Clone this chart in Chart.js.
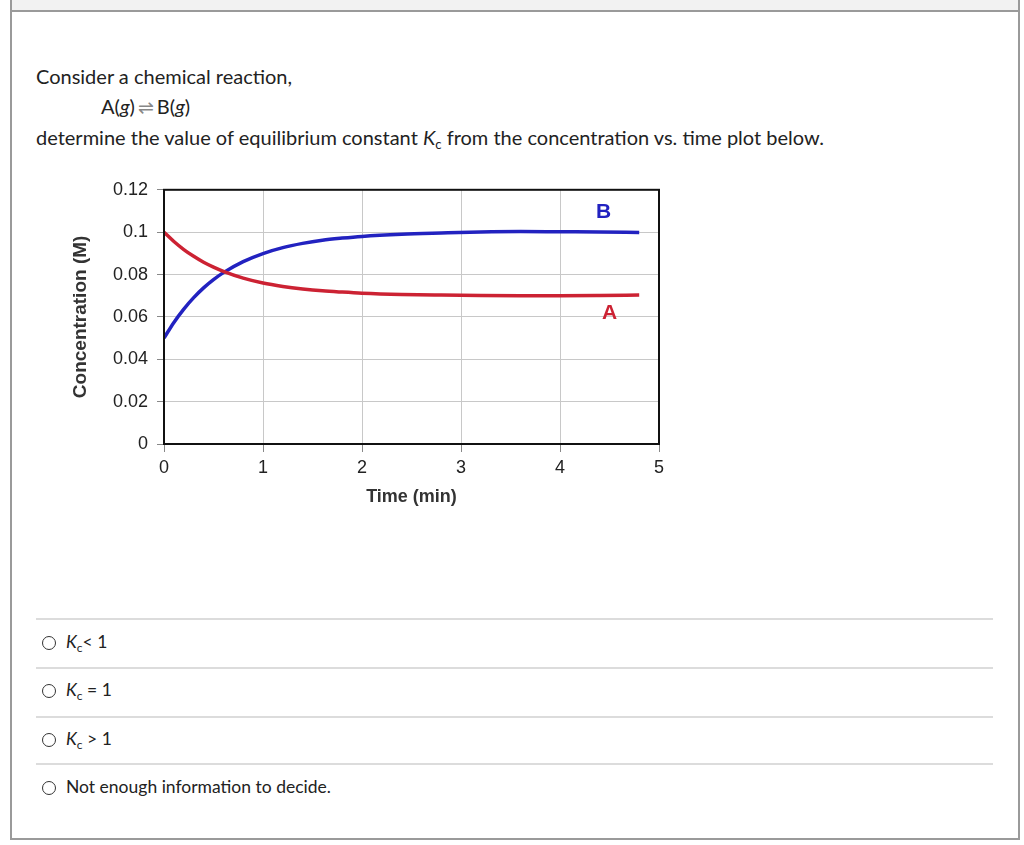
<!DOCTYPE html>
<html>
<head>
<meta charset="utf-8">
<script src="https://cdn.jsdelivr.net/npm/chart.js@4"></script>
<style>
body { margin: 0; background: #fff; font-family: Lato, "Noto Sans", sans-serif; color: #222; }
#frame { position: absolute; left: 10px; top: -2px; width: 1006px; height: 838px; border: 2px solid #9a9a9a; }
#band { position: absolute; left: 0; top: 0; width: 100%; height: 10px; background: #f2f2f2; border-bottom: 2px solid #9a9a9a; }
.q { position: absolute; font-size: 20px; line-height: 24px; white-space: nowrap; }
.arrow { color: #888; font-family: "DejaVu Sans"; font-size: 19px; padding: 0 3px; }
.sub { font-size: 13px; position: relative; top: 4px; }
.rule { position: absolute; left: 36px; width: 957px; height: 2px; background: #dcdcdc; }
.opt { position: absolute; left: 42px; font-size: 17.5px; line-height: 20px; white-space: nowrap; }
.opt .sub { font-size: 12px; }
.opt .dot { display: inline-block; width: 12px; height: 12px; border: 1.5px solid #333; border-radius: 50%; vertical-align: -2px; margin-right: 10px; }
#wrap { position: absolute; left: 60px; top: 170px; width: 620px; height: 340px; }
</style>
</head>
<body>
<div id="frame"><div id="band"></div></div>

<div class="q" style="left:36px; top:64px;">Consider a chemical reaction,</div>
<div class="q" style="left:101px; top:94px;">A(<i>g</i>)<span class="arrow">⇌</span>B(<i>g</i>)</div>
<div class="q" style="left:36px; top:125px;">determine the value of equilibrium constant <i>K</i><span class="sub">c</span> from the concentration vs. time plot below.</div>

<div id="wrap"><canvas id="myChart"></canvas></div>

<div class="rule" style="top:618px;"></div>
<div class="opt" style="top:632px;"><span class="dot"></span><i>K</i><span class="sub">c</span>&lt; 1</div>
<div class="rule" style="top:667px;"></div>
<div class="opt" style="top:680px;"><span class="dot"></span><i>K</i><span class="sub">c</span> = 1</div>
<div class="rule" style="top:716px;"></div>
<div class="opt" style="top:729px;"><span class="dot"></span><i>K</i><span class="sub">c</span> &gt; 1</div>
<div class="rule" style="top:763px;"></div>
<div class="opt" style="top:777px;"><span class="dot"></span>Not enough information to decide.</div>

<script>
// time in minutes
var times = [0, 0.1, 0.2, 0.3, 0.4, 0.5, 0.6, 0.8, 1.0, 1.2, 1.4, 1.6, 1.8, 2.0, 2.4, 2.8, 3.2, 3.6, 4.0, 4.4, 4.8];
// concentrations (M)
var concA = [0.100, 0.0956, 0.0918, 0.0886, 0.0858, 0.0835, 0.0815, 0.0783, 0.0760, 0.0744, 0.0732, 0.0723, 0.0717, 0.0712, 0.0706, 0.0703, 0.0701, 0.0700, 0.0700, 0.0701, 0.0703];
var concB = [0.050, 0.0574, 0.0637, 0.0691, 0.0737, 0.0776, 0.0809, 0.0861, 0.0899, 0.0927, 0.0947, 0.0962, 0.0972, 0.0980, 0.0990, 0.0996, 0.1001, 0.1003, 0.1002, 0.1001, 0.0999];
var yTicks = [0, 0.02, 0.04, 0.06, 0.08, 0.1, 0.12];
var yTickLabels = ['0', '0.02', '0.04', '0.06', '0.08', '0.1', '0.12'];
var xTicks = [0, 1, 2, 3, 4, 5];
var seriesNames = ['A', 'B'];

function toPoints(ys) {
    return times.map(function (t, i) { return {x: t, y: ys[i]}; });
}

// black frame round the plot + A / B labels
var framePlugin = {
    id: 'framePlugin',
    afterDatasetsDraw: function (chart) {
        var ctx = chart.ctx, a = chart.chartArea;
        var xs = chart.scales.x, ys = chart.scales.y;
        ctx.save();
        ctx.strokeStyle = '#111';
        ctx.lineWidth = 2;
        ctx.strokeRect(a.left, a.top, a.right - a.left, a.bottom - a.top);
        ctx.font = 'bold 21px "Liberation Sans", Arial, sans-serif';
        ctx.textAlign = 'center';
        ctx.textBaseline = 'middle';
        ctx.fillStyle = '#2222c0';
        ctx.fillText(seriesNames[1], xs.getPixelForValue(4.44), ys.getPixelForValue(0.1093));
        ctx.fillStyle = '#cc2233';
        ctx.fillText(seriesNames[0], xs.getPixelForValue(4.5), ys.getPixelForValue(0.0616));
        ctx.restore();
    }
};

new Chart(document.getElementById('myChart'), {
    type: 'line',
    data: {
        datasets: [{
            label: seriesNames[0],
            data: toPoints(concA),
            borderColor: '#cc2233',
            borderWidth: 3.5,
            pointRadius: 0,
            cubicInterpolationMode: 'monotone',
            fill: false
        }, {
            label: seriesNames[1],
            data: toPoints(concB),
            borderColor: '#2222c0',
            borderWidth: 3.5,
            pointRadius: 0,
            cubicInterpolationMode: 'monotone',
            fill: false
        }]
    },
    options: {
        responsive: true,
        maintainAspectRatio: false,
        animation: false,
        layout: { padding: { top: 17, right: 21, left: 0, bottom: 0 } },
        plugins: { legend: { display: false }, tooltip: { enabled: false } },
        scales: {
            x: {
                type: 'linear',
                min: 0, max: 5,
                afterBuildTicks: function (s) { s.ticks = xTicks.map(function (v) { return {value: v}; }); },
                afterFit: function (s) { s.height = 66; },
                grid: { color: '#c8c8c8', tickColor: '#888', tickLength: 8 },
                border: { color: '#111', width: 2 },
                ticks: { color: '#222', padding: 5, font: { family: '"Liberation Sans", Arial, sans-serif', size: 18 } },
                title: { display: true, text: 'Time (min)', color: '#333', padding: { top: 0, bottom: 2 },
                         font: { family: '"Liberation Sans", Arial, sans-serif', size: 18, weight: 'bold' } }
            },
            y: {
                min: 0, max: 0.12,
                afterBuildTicks: function (s) { s.ticks = yTicks.map(function (v) { return {value: v}; }); },
                afterFit: function (s) { s.width = 104; },
                grid: { color: '#c8c8c8', tickColor: '#888', tickLength: 7 },
                border: { color: '#111', width: 2 },
                ticks: {
                    color: '#222', padding: 9,
                    font: { family: '"Liberation Sans", Arial, sans-serif', size: 18 },
                    callback: function (v, i) { return yTickLabels[i]; }
                },
                title: { display: true, text: 'Concentration (M)', color: '#333', padding: { top: 9, bottom: 0 },
                         font: { family: '"Liberation Sans", Arial, sans-serif', size: 19, weight: 'bold' } }
            }
        }
    },
    plugins: [framePlugin]
});
</script>
</body>
</html>
